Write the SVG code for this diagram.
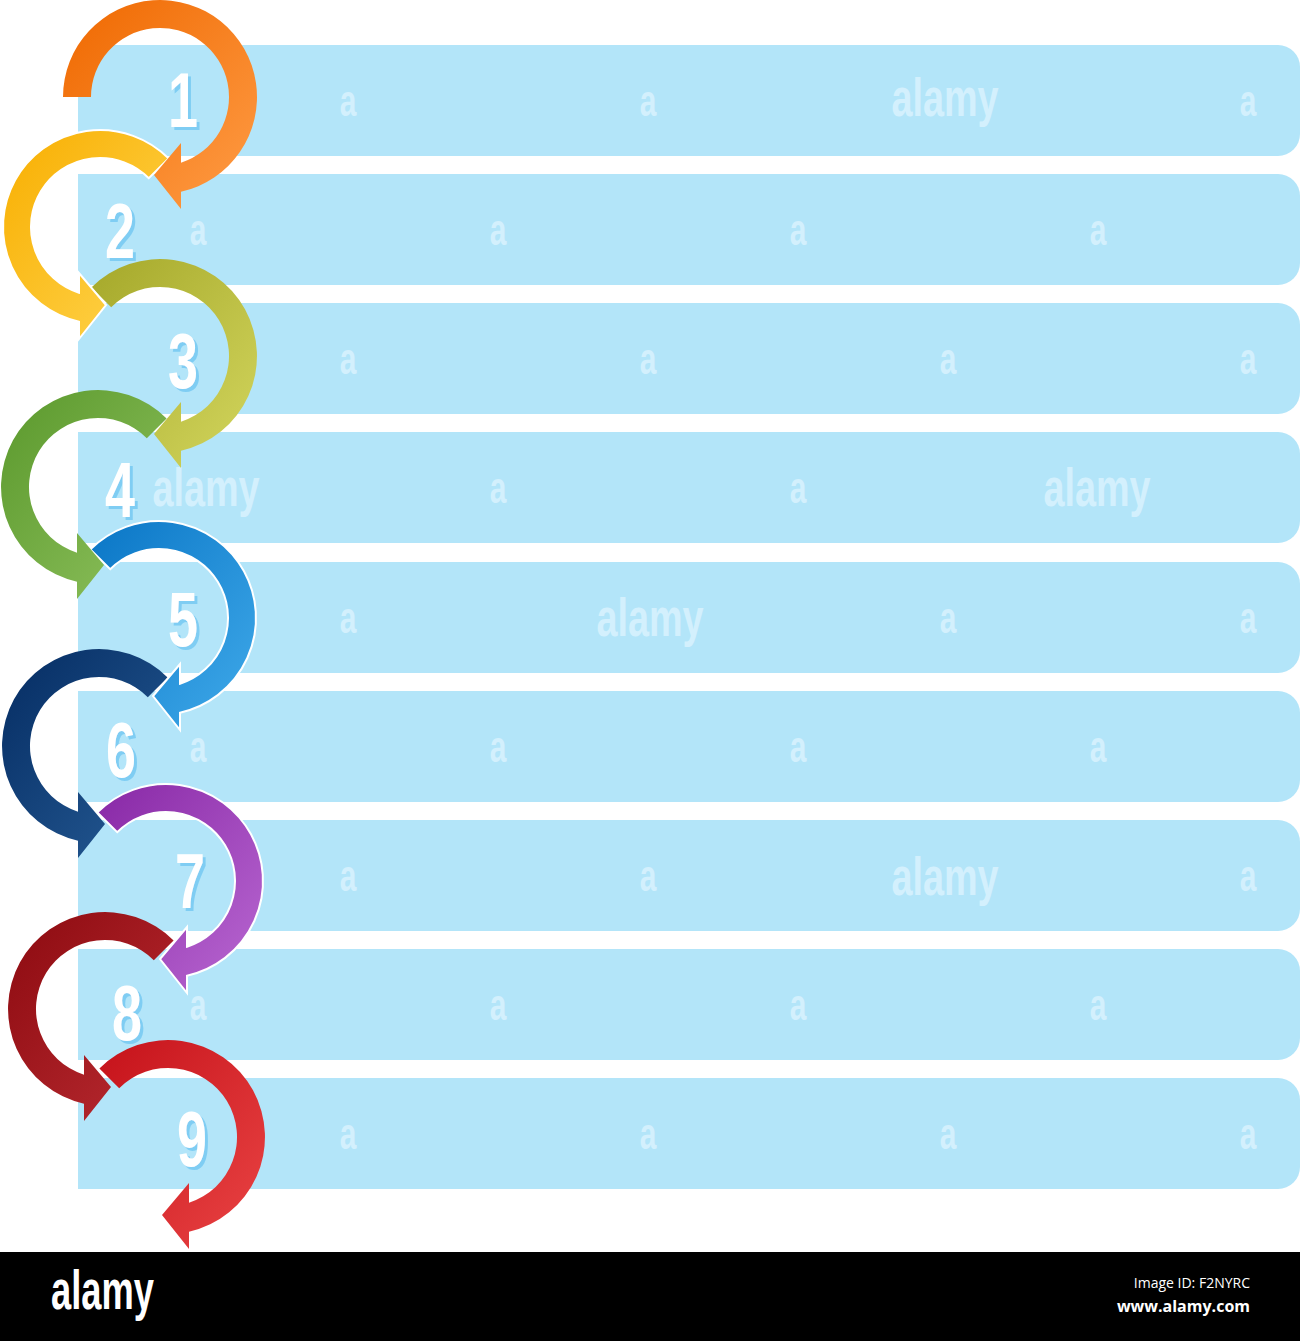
<svg xmlns="http://www.w3.org/2000/svg" xmlns:xlink="http://www.w3.org/1999/xlink" width="1300" height="1341" viewBox="0 0 1300 1341">
<style>
.bar{fill:#b3e5f9}
.wm{font-family:"Liberation Sans",Arial,sans-serif;font-weight:bold;fill:#d3f0fd;text-anchor:middle}
.num{font-family:"Liberation Sans",Arial,sans-serif;font-weight:bold;font-size:77px;text-anchor:middle;fill:#ffffff}
.outl{stroke:#ffffff;stroke-width:2}
</style>
<defs>
<filter id="numsh" x="-20%" y="-20%" width="150%" height="150%">
<feDropShadow dx="3" dy="3" stdDeviation="0.6" flood-color="#7fcdf3" flood-opacity="1"/>
</filter>
<path id="cw1" d="M-97,0 A97,97 0 1 1 21,94.7 L21,112 L-6,78 L21,46 L21,65.7 A69,69 0 1 0 -69,0 Z"/>
<path id="cw" d="M-68.6,-68.6 A97,97 0 1 1 21,94.7 L21,112 L-6,78 L21,46 L21,65.7 A69,69 0 1 0 -48.8,-48.8 Z"/>
<path id="ccw" d="M68.6,-68.6 A97,97 0 1 0 -21,94.7 L-21,112 L6,78 L-21,46 L-21,65.7 A69,69 0 1 1 48.8,-48.8 Z"/>
<linearGradient id="g1" x1="0" y1="0" x2="1" y2="1"><stop offset="0" stop-color="#ef6800"/><stop offset="1" stop-color="#ff9c45"/></linearGradient>
<linearGradient id="g2" x1="0" y1="0" x2="1" y2="1"><stop offset="0" stop-color="#f8ae00"/><stop offset="1" stop-color="#ffd650"/></linearGradient>
<linearGradient id="g3" x1="0" y1="0" x2="1" y2="1"><stop offset="0" stop-color="#a5a82a"/><stop offset="1" stop-color="#d3d65e"/></linearGradient>
<linearGradient id="g4" x1="0" y1="0" x2="1" y2="1"><stop offset="0" stop-color="#5a982c"/><stop offset="1" stop-color="#8fc25e"/></linearGradient>
<linearGradient id="g5" x1="0" y1="0" x2="1" y2="1"><stop offset="0" stop-color="#0a76c6"/><stop offset="1" stop-color="#40aaea"/></linearGradient>
<linearGradient id="g6" x1="0" y1="0" x2="1" y2="1"><stop offset="0" stop-color="#052c62"/><stop offset="1" stop-color="#265c96"/></linearGradient>
<linearGradient id="g7" x1="0" y1="0" x2="1" y2="1"><stop offset="0" stop-color="#8828a6"/><stop offset="1" stop-color="#b968d2"/></linearGradient>
<linearGradient id="g8" x1="0" y1="0" x2="1" y2="1"><stop offset="0" stop-color="#8c0a10"/><stop offset="1" stop-color="#bb2c32"/></linearGradient>
<linearGradient id="g9" x1="0" y1="0" x2="1" y2="1"><stop offset="0" stop-color="#c5121a"/><stop offset="1" stop-color="#ea4444"/></linearGradient>
</defs>
<rect width="1300" height="1341" fill="#ffffff"/>

<g id="bars">
<path class="bar" d="M78,45 H1278 A22,22 0 0 1 1300,67 V134 A22,22 0 0 1 1278,156 H78 Z"/>
<path class="bar" d="M78,174 H1278 A22,22 0 0 1 1300,196 V263 A22,22 0 0 1 1278,285 H78 Z"/>
<path class="bar" d="M78,303 H1278 A22,22 0 0 1 1300,325 V392 A22,22 0 0 1 1278,414 H78 Z"/>
<path class="bar" d="M78,432 H1278 A22,22 0 0 1 1300,454 V521 A22,22 0 0 1 1278,543 H78 Z"/>
<path class="bar" d="M78,562 H1278 A22,22 0 0 1 1300,584 V651 A22,22 0 0 1 1278,673 H78 Z"/>
<path class="bar" d="M78,691 H1278 A22,22 0 0 1 1300,713 V780 A22,22 0 0 1 1278,802 H78 Z"/>
<path class="bar" d="M78,820 H1278 A22,22 0 0 1 1300,842 V909 A22,22 0 0 1 1278,931 H78 Z"/>
<path class="bar" d="M78,949 H1278 A22,22 0 0 1 1300,971 V1038 A22,22 0 0 1 1278,1060 H78 Z"/>
<path class="bar" d="M78,1078 H1278 A22,22 0 0 1 1300,1100 V1167 A22,22 0 0 1 1278,1189 H78 Z"/>
</g>

<g id="watermarks" class="wm">
<g font-size="44">
<text transform="translate(348,116) scale(0.68,1)">a</text>
<text transform="translate(648,116) scale(0.68,1)">a</text>
<text transform="translate(1248,116) scale(0.68,1)">a</text>
<text transform="translate(198,245) scale(0.68,1)">a</text>
<text transform="translate(498,245) scale(0.68,1)">a</text>
<text transform="translate(798,245) scale(0.68,1)">a</text>
<text transform="translate(1098,245) scale(0.68,1)">a</text>
<text transform="translate(348,374) scale(0.68,1)">a</text>
<text transform="translate(648,374) scale(0.68,1)">a</text>
<text transform="translate(948,374) scale(0.68,1)">a</text>
<text transform="translate(1248,374) scale(0.68,1)">a</text>
<text transform="translate(498,503) scale(0.68,1)">a</text>
<text transform="translate(798,503) scale(0.68,1)">a</text>
<text transform="translate(348,633) scale(0.68,1)">a</text>
<text transform="translate(948,633) scale(0.68,1)">a</text>
<text transform="translate(1248,633) scale(0.68,1)">a</text>
<text transform="translate(198,762) scale(0.68,1)">a</text>
<text transform="translate(498,762) scale(0.68,1)">a</text>
<text transform="translate(798,762) scale(0.68,1)">a</text>
<text transform="translate(1098,762) scale(0.68,1)">a</text>
<text transform="translate(348,891) scale(0.68,1)">a</text>
<text transform="translate(648,891) scale(0.68,1)">a</text>
<text transform="translate(1248,891) scale(0.68,1)">a</text>
<text transform="translate(198,1020) scale(0.68,1)">a</text>
<text transform="translate(498,1020) scale(0.68,1)">a</text>
<text transform="translate(798,1020) scale(0.68,1)">a</text>
<text transform="translate(1098,1020) scale(0.68,1)">a</text>
<text transform="translate(348,1149) scale(0.68,1)">a</text>
<text transform="translate(648,1149) scale(0.68,1)">a</text>
<text transform="translate(948,1149) scale(0.68,1)">a</text>
<text transform="translate(1248,1149) scale(0.68,1)">a</text>
</g>
<g font-size="54">
<text transform="translate(945,116) scale(0.7,1)">alamy</text>
<text transform="translate(206,506) scale(0.7,1)">alamy</text>
<text transform="translate(1097,506) scale(0.7,1)">alamy</text>
<text transform="translate(650,636) scale(0.7,1)">alamy</text>
<text transform="translate(945,895) scale(0.7,1)">alamy</text>
</g>
</g>

<g id="numbers" class="num" filter="url(#numsh)">
<text transform="translate(183,127) scale(0.7,1)">1</text>
<text transform="translate(120,258) scale(0.7,1)">2</text>
<text transform="translate(183,388) scale(0.7,1)">3</text>
<text transform="translate(120,517) scale(0.7,1)">4</text>
<text transform="translate(183,646) scale(0.7,1)">5</text>
<text transform="translate(121,777) scale(0.7,1)">6</text>
<text transform="translate(190,908) scale(0.7,1)">7</text>
<text transform="translate(127,1040) scale(0.7,1)">8</text>
<text transform="translate(192,1166) scale(0.7,1)">9</text>
</g>

<g id="connectors">
<use id="arrow9" xlink:href="#cw" href="#cw" transform="translate(168,1137)" fill="url(#g9)"/>
<use id="arrow8" xlink:href="#ccw" href="#ccw" transform="translate(105,1009)" fill="url(#g8)"/>
<use id="arrow7" xlink:href="#cw" href="#cw" transform="translate(166,881)" fill="url(#g7)" class="outl"/>
<use id="arrow6" xlink:href="#ccw" href="#ccw" transform="translate(99,746)" fill="url(#g6)"/>
<use id="arrow5" xlink:href="#cw" href="#cw" transform="translate(159,618)" fill="url(#g5)" class="outl"/>
<use id="arrow4" xlink:href="#ccw" href="#ccw" transform="translate(98,487)" fill="url(#g4)"/>
<use id="arrow3" xlink:href="#cw" href="#cw" transform="translate(160,356)" fill="url(#g3)"/>
<use id="arrow2" xlink:href="#ccw" href="#ccw" transform="translate(100,227)" fill="url(#g2)" class="outl"/>
<use id="arrow1" xlink:href="#cw1" href="#cw1" transform="translate(160,97)" fill="url(#g1)"/>
</g>

<g id="footer">
<rect x="0" y="1252" width="1300" height="89" fill="#000000"/>
<text transform="translate(51,1309) scale(0.66,1)" font-family="Liberation Sans, Arial, sans-serif" font-weight="bold" font-size="55" fill="#ffffff">alamy</text>
<text x="1250" y="1288" text-anchor="end" font-family="Open Sans, DejaVu Sans, sans-serif" font-size="14" fill="#ffffff">Image ID: F2NYRC</text>
<text x="1250" y="1312" text-anchor="end" font-family="Open Sans, DejaVu Sans, sans-serif" font-weight="bold" font-size="16" fill="#ffffff">www.alamy.com</text>
</g>
</svg>
